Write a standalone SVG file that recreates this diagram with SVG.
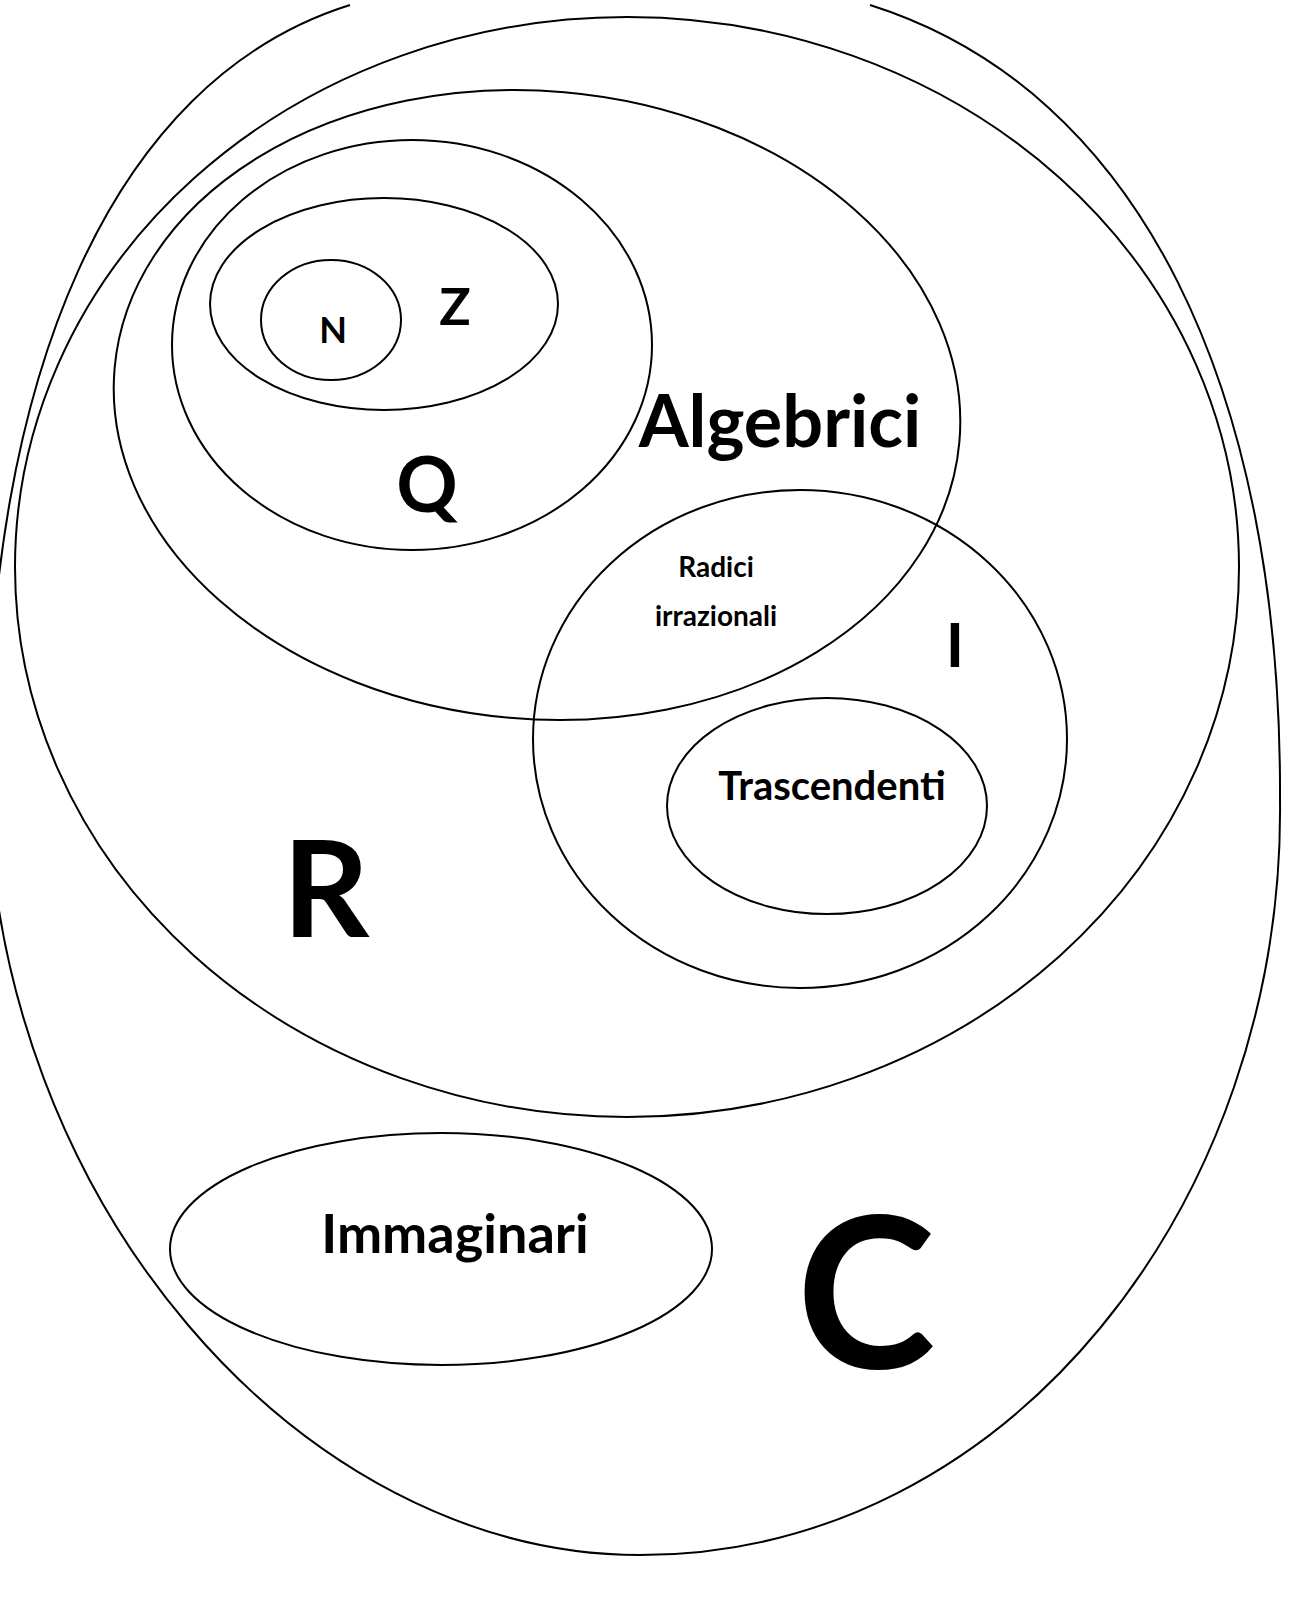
<svg xmlns="http://www.w3.org/2000/svg" width="1305" height="1600" viewBox="0 0 1305 1600">
<style>
.s{fill:none;stroke:#000;stroke-width:2}
text{font-family:Lato,"Open Sans",sans-serif;font-weight:bold;text-anchor:middle;fill:#000}
</style>
<rect width="1305" height="1600" fill="#fff"/>
<g id="C"><path class="s" d="M350,5 C110,80 -14,380 -12,780 C-8,1200 300,1555 640,1555 C1010,1555 1285,1200 1280,800 C1282,390 1140,90 870,5"/><text x="866" y="1368" font-size="210">C</text></g>
<g id="R"><ellipse class="s" cx="627" cy="567" rx="612" ry="550"/><text x="326" y="937" font-size="135">R</text></g>
<g id="Algebrici"><ellipse class="s" cx="537" cy="405" rx="424" ry="314" transform="rotate(5 537 405)"/><text x="780" y="447" font-size="72">Algebrici</text></g>
<g id="Q"><ellipse class="s" cx="412" cy="345" rx="240" ry="205"/><text x="427" y="512" font-size="76">Q</text></g>
<g id="Z"><ellipse class="s" cx="384" cy="304" rx="174" ry="106"/><text x="455" y="325" font-size="52">Z</text></g>
<g id="N"><ellipse class="s" cx="331" cy="320" rx="70" ry="60"/><text x="333" y="343" font-size="36">N</text></g>
<g id="I"><ellipse class="s" cx="800" cy="739" rx="267" ry="249"/><text x="955" y="667" font-size="62">I</text>
<text x="716" y="577" font-size="28">Radici</text><text x="716" y="626" font-size="28">irrazionali</text></g>
<g id="Trascendenti"><ellipse class="s" cx="827" cy="806" rx="160" ry="108"/><text x="832" y="800" font-size="40">Trascendenti</text></g>
<g id="Immaginari"><ellipse class="s" cx="441" cy="1249" rx="271" ry="116"/><text x="455" y="1253" font-size="54">Immaginari</text></g>
<g id="connectors"/>
</svg>
